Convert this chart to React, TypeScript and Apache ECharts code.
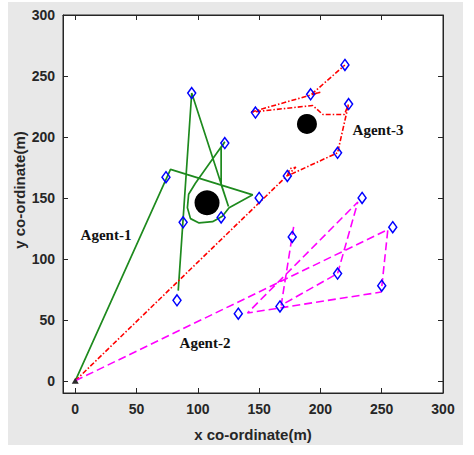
import React, { useEffect, useRef } from "react";
import * as echarts from "echarts";

// Agent-1 trajectory (green, solid)
const agent1X = [0, 77.7, 144.8, 125.5, 120, 112, 101, 94, 91.5, 92.5, 98, 122, 119, 119, 125, 95, 84];
const agent1Y = [0, 173.4, 152.5, 142, 135, 130.5, 129.5, 133, 142, 153, 162, 196, 191, 161, 143, 236, 74];

// Agent-2 trajectory (magenta, dashed)
const agent2X = [0, 255, 249.6, 140.5, 230.5, 214, 168, 178.6];
const agent2Y = [0, 124, 72.8, 55.6, 146.6, 88, 62, 129];

// Agent-3 trajectory (red, dash-dot)
const agent3X = [0, 180, 175, 173, 214, 223, 219.6, 202, 193.7, 143.2, 200.5, 192.3, 220];
const agent3Y = [0, 175.2, 174, 168, 187, 227, 218.4, 218.4, 225.8, 220.3, 236.8, 234.6, 259];

// Waypoints (blue diamonds)
const waypointX = [95, 122, 74, 88, 119, 83, 150, 147, 192, 220, 223, 214, 173, 177, 234, 259, 214, 250, 167, 133];
const waypointY = [236, 195, 167, 130, 134, 66, 150, 220, 235, 259, 227, 187, 168, 118, 150, 126, 88, 78, 61, 55];

// Obstacles (black discs)
const obstacleX = [107.5, 189];
const obstacleY = [146, 210.7];
const obstacleSize = [25, 20];

const tickValues = [0, 50, 100, 150, 200, 250, 300];
const axisMin = -10;
const axisMax = 300;

const zip = (xs: number[], ys: number[]) => xs.map((x, i) => [x, ys[i]]);

export default function App() {
  const ref = useRef<HTMLDivElement>(null);

  useEffect(() => {
    if (!ref.current) return;
    const chart = echarts.init(ref.current, null, { renderer: "svg" });
    const axisColor = "#262626";
    const labelStyle = {
      fontFamily: "Liberation Sans, Arial, sans-serif",
      fontWeight: "bold" as const,
      fontSize: 14,
      color: axisColor,
    };
    const baseAxis = (position: string, showLabel: boolean, isX: boolean) => ({
      type: "value" as const,
      position,
      min: axisMin,
      max: axisMax,
      axisLine: { show: true, onZero: false, lineStyle: { color: axisColor, width: 1 } },
      axisTick: {
        show: true,
        inside: true,
        length: 5,
        customValues: tickValues,
        lineStyle: { color: axisColor, width: 1 },
      },
      axisLabel: {
        show: showLabel,
        customValues: tickValues,
        margin: isX ? 9 : 8,
        ...labelStyle,
      },
      splitLine: { show: false },
    });

    const agentLabel = (text: string, x: number, y: number) => ({
      type: "text",
      x,
      y,
      z: 10,
      style: {
        text,
        fontFamily: "Liberation Serif, Times New Roman, serif",
        fontWeight: "bold",
        fontSize: 15,
        fill: "#111",
        align: "center",
        verticalAlign: "middle",
      },
    });

    chart.setOption({
      animation: false,
      backgroundColor: "transparent",
      grid: {
        left: 63,
        top: 15,
        width: 380,
        height: 378,
        show: true,
        backgroundColor: "#ffffff",
        borderColor: axisColor,
        borderWidth: 1,
      },
      xAxis: [baseAxis("bottom", true, true), baseAxis("top", false, true)],
      yAxis: [baseAxis("left", true, false), baseAxis("right", false, false)],
      series: [
        {
          type: "line",
          data: zip(agent1X, agent1Y),
          showSymbol: false,
          lineStyle: { color: "#1e8a1e", width: 1.7 },
          z: 2,
        },
        {
          type: "line",
          data: zip(agent3X, agent3Y),
          showSymbol: false,
          lineStyle: { color: "#ff0000", width: 1.6, type: [5, 2, 1.5, 2] },
          z: 2,
        },
        {
          type: "line",
          data: zip(agent2X, agent2Y),
          showSymbol: false,
          lineStyle: { color: "#ff00ff", width: 1.6, type: [8, 4] },
          z: 2,
        },
        {
          type: "scatter",
          data: zip(waypointX, waypointY),
          symbol: "diamond",
          symbolSize: [8, 11],
          itemStyle: { color: "rgba(0,0,0,0)", borderColor: "#0000ff", borderWidth: 1.5, opacity: 1 },
          z: 4,
        },
        {
          type: "scatter",
          data: zip(obstacleX, obstacleY).map((p, i) => ({ value: p, symbolSize: obstacleSize[i] })),
          symbol: "circle",
          itemStyle: { color: "#000000", opacity: 1 },
          z: 5,
        },
        {
          type: "scatter",
          data: [[0, 0]],
          symbol: "triangle",
          symbolSize: [7, 6],
          itemStyle: { color: "#2b2b2b", opacity: 1 },
          z: 5,
        },
      ],
      graphic: [
        {
          type: "text",
          x: 253,
          y: 434,
          style: {
            text: "x co-ordinate(m)",
            fontFamily: "Liberation Sans, Arial, sans-serif",
            fontWeight: "bold",
            fontSize: 15,
            fill: axisColor,
            align: "center",
            verticalAlign: "middle",
          },
        },
        {
          type: "text",
          x: 19,
          y: 190,
          rotation: Math.PI / 2,
          style: {
            text: "y co-ordinate(m)",
            fontFamily: "Liberation Sans, Arial, sans-serif",
            fontWeight: "bold",
            fontSize: 15,
            fill: axisColor,
            align: "center",
            verticalAlign: "middle",
          },
        },
        agentLabel("Agent-1", 106, 235),
        agentLabel("Agent-2", 205, 343),
        agentLabel("Agent-3", 378, 130),
      ],
    });
    return () => chart.dispose();
  }, []);

  return (
    <div style={{ position: "fixed", left: 0, top: 0, width: 474, height: 455, background: "#ffffff" }}>
      <div style={{ position: "absolute", left: 8, top: 2, width: 455, height: 443, background: "#e8e8e8" }} />
      <div ref={ref} style={{ position: "absolute", left: 0, top: 0, width: 474, height: 455 }} />
    </div>
  );
}
